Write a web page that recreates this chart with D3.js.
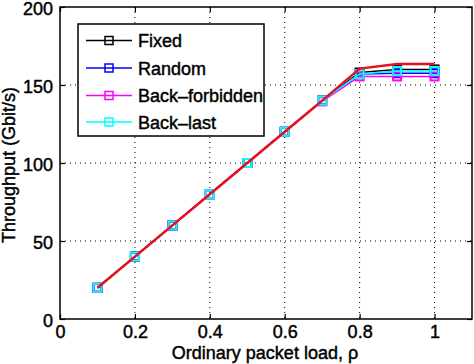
<!DOCTYPE html>
<html><head><meta charset="utf-8">
<script src="https://cdn.jsdelivr.net/npm/d3@7"></script>
<style>body{margin:0;background:#fff}svg{display:block}text{font-family:"Liberation Sans",Arial,sans-serif;stroke:#000;stroke-width:0.45px;fill:#000}</style>
</head><body><svg id="c" width="474" height="364"></svg>
<script>
const loads = [0.1,0.2,0.3,0.4,0.5,0.6,0.7,0.8,0.9,1.0];
const fixed = [20,40,60,80,100,120,140,158,160,160];
const random = [20,40,60,80,100,120,140,157,157.5,157.5];
const backForbidden = [20,40,60,80,100,120,139.5,155.5,155.5,155.5];
const backLast = [20,40,60,80,100,120,140,157,159,159];
const theory = [20,40,60,80,100,120,140,160.5,163.5,163.5];
const seriesNames = ["Fixed","Random","Back–forbidden","Back–last"];
const seriesColors = ["#000000","#0000ff","#ff00ff","#00ffff"];
const xTicks = [0,0.2,0.4,0.6,0.8,1];
const xTickLabels = ["0","0.2","0.4","0.6","0.8","1"];
const yTicks = [0,50,100,150,200];

const svg = d3.select("#c");
const L=60,R=472,T=7,B=319;
const x = d3.scaleLinear().domain([0,1.1]).range([L,R]);
const y = d3.scaleLinear().domain([0,200]).range([B,T]);

// grid
const g = svg.append("g");
xTicks.filter(v=>v>0).forEach(v=>g.append("line").attr("x1",x(v)).attr("x2",x(v)).attr("y1",T).attr("y2",B)
  .attr("stroke","#000").attr("stroke-width",1).attr("stroke-dasharray","1,4"));
yTicks.filter(v=>v>0&&v<200).forEach(v=>g.append("line").attr("x1",L).attr("x2",R).attr("y1",y(v)).attr("y2",y(v))
  .attr("stroke","#000").attr("stroke-width",1).attr("stroke-dasharray","1,4"));

// series
const data = [fixed,random,backForbidden,backLast];
const line = d3.line().x((d,i)=>x(loads[i])).y(d=>y(d));
data.forEach((s,k)=>{
  svg.append("path").datum(s).attr("d",line).attr("fill","none").attr("stroke",seriesColors[k]).attr("stroke-width",1.5);
  svg.selectAll(null).data(s).enter().append("rect")
    .attr("x",(d,i)=>x(loads[i])-4).attr("y",d=>y(d)-4).attr("width",8).attr("height",8)
    .attr("fill","none").attr("stroke",seriesColors[k]).attr("stroke-width",2);
});
svg.append("path").datum(theory).attr("d",line).attr("fill","none").attr("stroke","#e8101a").attr("stroke-width",2.5);

// axes
const xAxB = d3.axisBottom(x).tickValues(xTicks).tickFormat((d,i)=>xTickLabels[i]).tickSizeInner(-5).tickSizeOuter(0).tickPadding(6);
const xAxT = d3.axisTop(x).tickValues(xTicks).tickFormat("").tickSizeInner(-5).tickSizeOuter(0);
const yAxL = d3.axisLeft(y).tickValues(yTicks).tickSizeInner(-5).tickSizeOuter(0).tickPadding(7);
const yAxR = d3.axisRight(y).tickValues(yTicks).tickFormat("").tickSizeInner(-5).tickSizeOuter(0);
const styleAx = sel=>{sel.selectAll("path").remove();sel.selectAll("line").attr("stroke","#000").attr("stroke-width",1.2);
  sel.selectAll("text").attr("font-size",18).attr("fill","#000").style("font-family","'Liberation Sans',Arial,sans-serif");};
svg.append("g").attr("transform",`translate(0,${B})`).call(xAxB).call(styleAx);
svg.append("g").attr("transform",`translate(0,${T})`).call(xAxT).call(styleAx);
svg.append("g").attr("transform",`translate(${L},0)`).call(yAxL).call(styleAx).selectAll("text").attr("dy","0.42em");
svg.append("g").attr("transform",`translate(${R},0)`).call(yAxR).call(styleAx);
svg.append("rect").attr("x",L).attr("y",T).attr("width",R-L).attr("height",B-T).attr("fill","none").attr("stroke","#000").attr("stroke-width",1.5);

// labels
svg.append("text").attr("x",265).attr("y",359).attr("text-anchor","middle").attr("font-size",18).text("Ordinary packet load, ρ");
svg.append("text").attr("transform","translate(15,165) rotate(-90)").attr("text-anchor","middle").attr("font-size",18).text("Throughput (Gbit/s)");

// legend
const lg = svg.append("g");
lg.append("rect").attr("x",78).attr("y",24).attr("width",186).attr("height",112).attr("fill","#fff").attr("stroke","#000").attr("stroke-width",1.5);
const rowsY = [40.5,68,95.5,122];
seriesNames.forEach((n,k)=>{
  lg.append("line").attr("x1",86).attr("x2",132).attr("y1",rowsY[k]).attr("y2",rowsY[k]).attr("stroke",seriesColors[k]).attr("stroke-width",1.5);
  lg.append("rect").attr("x",105).attr("y",rowsY[k]-4).attr("width",8).attr("height",8).attr("fill","none").attr("stroke",seriesColors[k]).attr("stroke-width",1.5);
  lg.append("text").attr("x",138).attr("y",rowsY[k]+6.5).attr("font-size",18).text(n);
});
</script></body></html>
